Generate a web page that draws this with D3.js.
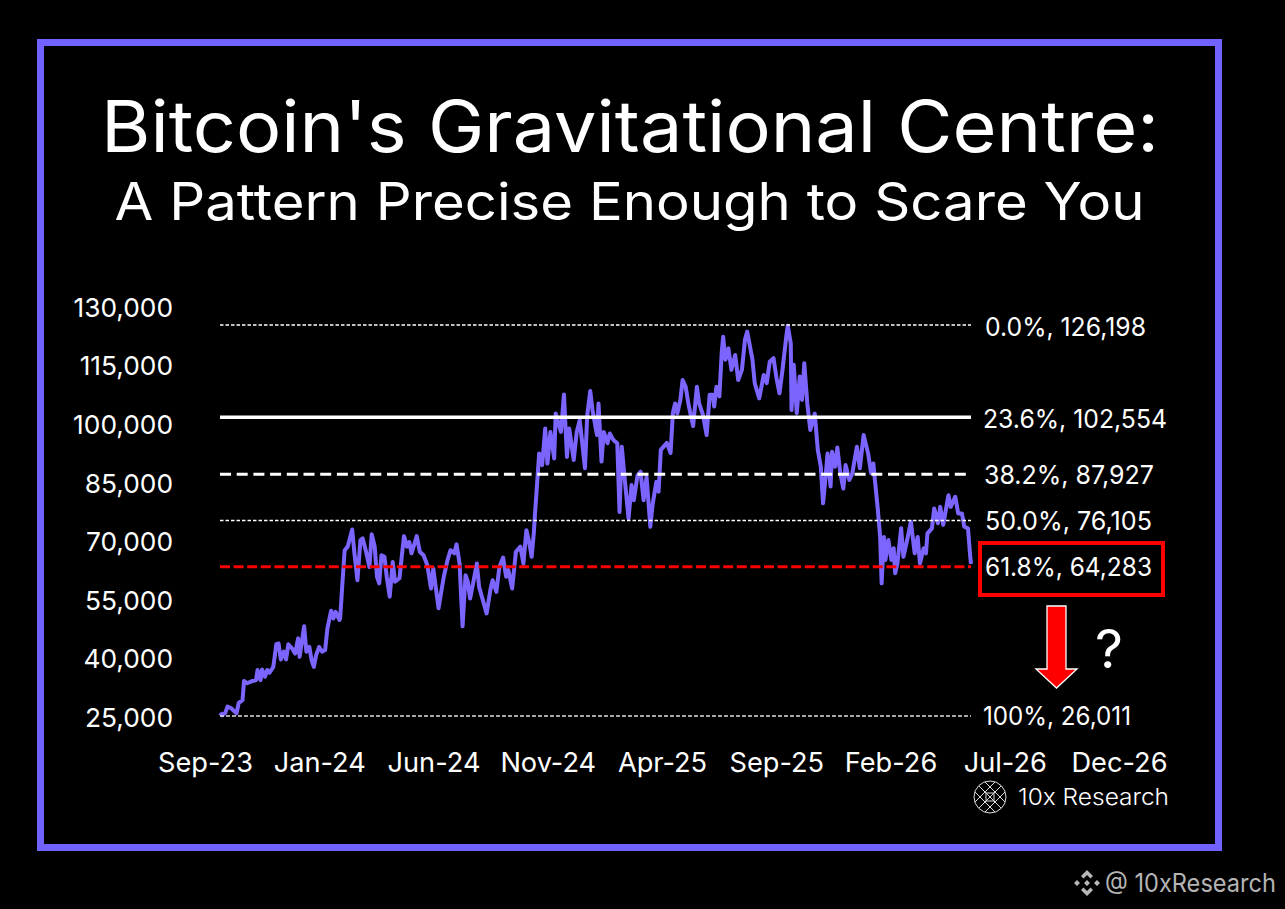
<!DOCTYPE html>
<html><head><meta charset="utf-8">
<script src="https://cdn.jsdelivr.net/npm/d3@7/dist/d3.min.js"></script>
<style>html,body{margin:0;padding:0;background:#000;overflow:hidden}svg{display:block}text{font-family:Inter,"Open Sans",sans-serif;fill:#fff}</style>
</head><body><svg id="c" width="1285" height="909"></svg>
<script>
const xTickLabels=["Sep-23","Jan-24","Jun-24","Nov-24","Apr-25","Sep-25","Feb-26","Jul-26","Dec-26"];
const yTickValues=[25000,40000,55000,70000,85000,100000,115000,130000];
const levelNames=["0.0%","23.6%","38.2%","50.0%","61.8%","100%"];
const levelValues=[126198,102554,87927,76105,64283,26011];
const priceDays=[0,3,7,10,15,18,22,25,30,32,36,42,48,50,54,56,60,63,66,71,75,78,81,85,88,91,96,100,104,106,110,112,115,119,122,125,128,132,136,140,143,148,151,154,159,160,163,166,170,176,179,183,187,190,194,199,202,206,209,212,215,219,222,226,230,233,239,242,245,249,252,255,262,266,271,276,281,284,291,295,298,303,307,312,315,319,323,327,330,333,337,342,345,355,360,363,368,372,377,381,384,389,394,400,404,408,412,415,418,419,423,425,429,433,436,440,445,447,454,458,462,465,471,475,479,486,489,493,496,502,504,508,511,516,519,524,529,532,535,538,544,548,551,556,560,564,568,573,576,581,584,587,595,600,603,606,609,613,616,620,624,630,635,638,643,648,652,656,658,661,665,668,670,673,677,681,686,690,695,699,702,709,712,718,724,728,732,737,741,745,749,754,756,760,761,764,768,772,775,778,782,786,792,796,800,803,806,809,813,815,819,822,826,830,833,838,842,848,852,857,863,867,870,872,876,879,881,884,886,890,894,897,899,902,907,910,914,920,925,929,932,937,940,942,948,951,956,959,963,970,973,979,983,988,991,996,999,1000];
const priceK=[26.8,26.2,26.8,28.4,28.0,27.4,26.7,29.4,30.1,35.0,34.4,34.9,35.2,37.8,35.2,37.9,36.1,37.8,37.1,38.6,44.4,44.6,40.5,42.5,40.5,44.4,43.3,42.0,45.9,41.2,46.3,49.0,42.5,43.7,40.3,38.6,41.6,43.7,42.5,42.9,48.4,53.0,51.0,52.7,50.6,51,60,68.5,69.4,73.8,67.7,60.8,71.1,71.5,68.5,64.2,72.6,69.4,61.7,60,67.2,66.8,61.7,56.6,65.5,60.4,61.3,66.8,72.1,69.4,70.6,67.7,72.1,68.1,67.2,64.7,58.7,63.8,53.6,58.3,61.7,66,68.5,67.7,70,65.1,49,62.1,60.4,56.1,60,65.1,59.1,52.3,58.3,60.8,57.8,64.2,66.6,61.7,63.4,58.7,68.1,69.4,65.1,73.6,70.2,66.8,73.2,76.6,87.7,93.3,90.3,99.7,90.7,98.8,92,103.5,98.8,108.4,92.4,99.7,91.6,98.8,101.8,89.5,103.1,109.3,104.4,98,106.1,91.2,98.8,95.9,98.4,96.7,95.9,78.3,95,88.6,76.6,85.2,81.3,87.7,88.6,81.3,87.3,74.5,80.1,86,83.5,94.2,96,93.4,103.6,106.1,103.6,107,112.1,110.4,105.7,100.3,110.4,106.1,103.2,98,108.3,108.3,105.3,110.4,107.9,119,123.2,117.3,120.2,114.7,118.5,112.1,114.7,122.4,124.5,117.3,111.3,107.4,113.4,111.3,116.8,117.7,112.6,108.7,114.7,123.2,126,121.5,104.4,116,103.6,113,107,116.4,106.1,99.3,103.5,94.2,89.9,80.5,86.5,93.3,84.8,93.7,89.9,94.8,88.2,84.3,90.3,86.5,88.2,95,89.5,98,93.3,88.2,90.7,86.5,78.8,71.9,60,71.9,66,71.1,66,69,62.6,65.1,74.1,66.8,70.2,75.8,67.7,71.9,65.1,69,67.7,72.8,74.1,79.2,75.4,79.6,75,82.6,79.6,82.2,77.9,77.9,74.5,74.1,66.8,65];
const titleLine1="Bitcoin's Gravitational Centre:";
const titleLine2="A Pattern Precise Enough to Scare You";

const svg=d3.select("#c");
const purple="#7161ff", lineCol="#7a66ff", red="#ff0000";
svg.append("rect").attr("width",1285).attr("height",909).attr("fill","#000");
svg.append("rect").attr("x",40.5).attr("y",42.5).attr("width",1178).attr("height",805).attr("fill","#000").attr("stroke",purple).attr("stroke-width",7);

svg.append("text").attr("x",630).attr("y",152).attr("text-anchor","middle").attr("font-size",71).attr("textLength",1058).attr("lengthAdjust","spacingAndGlyphs").text(titleLine1);
svg.append("text").attr("x",629.5).attr("y",220).attr("text-anchor","middle").attr("font-size",51.5).attr("textLength",1030).attr("lengthAdjust","spacingAndGlyphs").text(titleLine2);

const y=d3.scaleLinear().domain([26011,126198]).range([716,325]);
const x=d3.scaleLinear().domain([0,1000]).range([220,971]);
const xLab=d3.scalePoint().domain(xTickLabels).range([205,1119]);

// axes
const gy=svg.append("g").attr("transform","translate(173,-3)").call(d3.axisLeft(y).tickValues(yTickValues).tickSize(0).tickPadding(0).tickFormat(d3.format(",")));
gy.select(".domain").remove();
gy.selectAll("text").attr("font-size",26.3).attr("font-family","Inter").attr("dy","0.35em").attr("fill","#fff");
const gx=svg.append("g").attr("transform","translate(0,762)").call(d3.axisBottom(xLab).tickSize(0).tickPadding(0));
gx.select(".domain").remove();
gx.selectAll("text").attr("font-size",27.2).attr("font-family","Inter").attr("dy","0.35em").attr("fill","#fff");

// price
const pts=priceDays.map((d,i)=>[d,priceK[i]*1000]);
const line=d3.line().x(d=>x(d[0])).y(d=>y(d[1]));
svg.append("path").datum(pts).attr("d",line).attr("fill","none").attr("stroke",lineCol).attr("stroke-width",4).attr("stroke-linejoin","round");

// levels
const styles=[
 {c:"#fff",w:1.4,da:"3.5 2"},
 {c:"#fff",w:3.4,da:null},
 {c:"#fff",w:3,da:"11 5.7"},
 {c:"#fff",w:1.4,da:"3.5 2"},
 {c:red,w:3,da:"10 3.6"},
 {c:"#ddd",w:1.6,da:"4 2"}];
const labelCy=[327,419,475,521,567,716], labelX=[985,983,984,985,985,983], labelW=[161,184,170,167,167,148];
svg.append("g").selectAll("line").data(levelValues).join("line")
 .attr("x1",220).attr("x2",971).attr("y1",d=>y(d)).attr("y2",d=>y(d))
 .attr("stroke",(d,i)=>styles[i].c).attr("stroke-width",(d,i)=>styles[i].w).attr("stroke-dasharray",(d,i)=>styles[i].da);
svg.append("g").selectAll("text").data(levelValues).join("text")
 .attr("x",(d,i)=>labelX[i]).attr("y",(d,i)=>labelCy[i]).attr("dy","0.35em").attr("font-size",26)
 .attr("textLength",(d,i)=>labelW[i]).attr("lengthAdjust","spacingAndGlyphs")
 .text((d,i)=>`${levelNames[i]}, ${d3.format(",")(d)}`);

// callout
svg.append("rect").attr("x",980).attr("y",543).attr("width",183).attr("height",52).attr("fill","none").attr("stroke",red).attr("stroke-width",4);
svg.append("path").attr("d","M1047 606H1066V669H1077L1056.5 688L1036 669H1047Z").attr("fill",red).attr("stroke","#fff").attr("stroke-width",1.3);
svg.append("text").attr("x",1109).attr("y",668).attr("text-anchor","middle").attr("font-size",54).attr("textLength",28).attr("lengthAdjust","spacingAndGlyphs").text("?");

// logo
const logo=svg.append("g").attr("transform","translate(990,797)").attr("fill","none").attr("stroke","#ddd").attr("stroke-width",1);
logo.append("circle").attr("r",16);
[[-11,-11,11,11],[-11,11,11,-11]].forEach(s=>logo.append("line").attr("x1",s[0]).attr("y1",s[1]).attr("x2",s[2]).attr("y2",s[3]));
logo.append("path").attr("d","M-15 -5L5 15M-5 -15L15 5M-15 5L5 -15M-5 15L15 -5");
logo.append("rect").attr("x",-4).attr("y",-4).attr("width",8).attr("height",8);
svg.append("text").attr("x",1018).attr("y",805).attr("font-size",23).attr("font-weight",300).attr("textLength",151).attr("lengthAdjust","spacingAndGlyphs").attr("fill","#eee").text("10x Research");

// watermark
const wm=svg.append("g").attr("transform","translate(1087,883)").attr("fill","#b8b8b8");
wm.append("path").attr("d","M0 -13L6 -7L3.5 -4.5L0 -8L-3.5 -4.5L-6 -7ZM-13 0L-10 -3L-7 0L-10 3ZM13 0L10 -3L7 0L10 3ZM0 -3L3 0L0 3L-3 0ZM-6 7L-3.5 4.5L0 8L3.5 4.5L6 7L0 13Z");
svg.append("text").attr("x",1105).attr("y",892).attr("font-family","Open Sans").attr("font-size",25).attr("textLength",171).attr("lengthAdjust","spacingAndGlyphs").style("fill","#b4b4b4").text("@ 10xResearch");
</script></body></html>
